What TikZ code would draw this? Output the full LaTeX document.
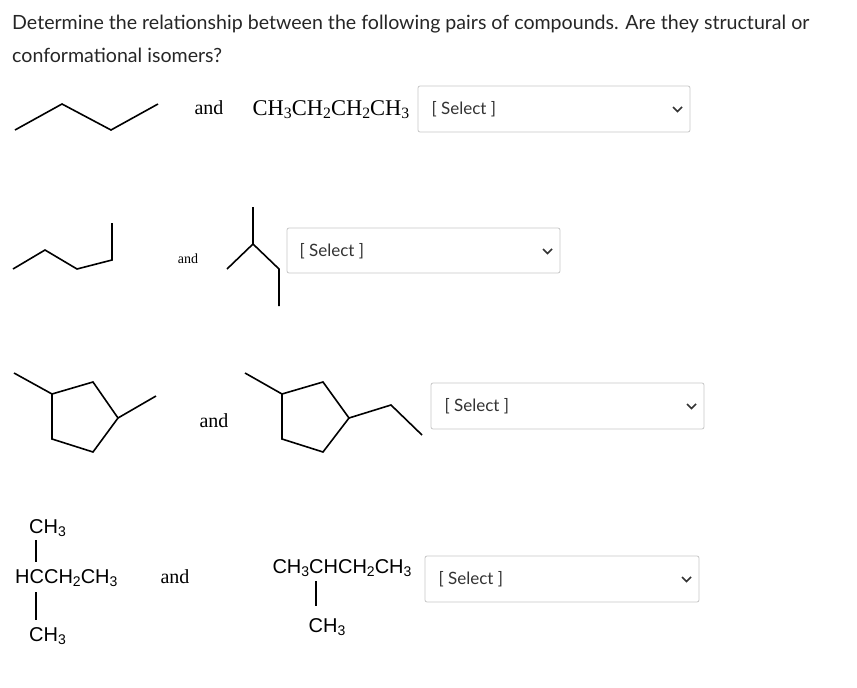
\documentclass[tikz,border=0pt]{standalone}
\usepackage{fontspec}
\setmainfont{Lato}
\newfontfamily\serif{Liberation Serif}
\newfontfamily\arial{Liberation Sans}
\newcommand{\sbs}[1]{\raisebox{-0.3ex}{\scalebox{0.7}{#1}}}
\begin{document}
\begin{tikzpicture}[x=1pt,y=-1pt,
  bond/.style={line width=1.6pt,line join=miter},
  sel/.style={draw=black!22,rounded corners=2pt,line width=0.8pt},
  seltext/.style={anchor=west,font=\fontsize{17}{19}\selectfont,text=black!80},
  chev/.style={line width=1.5pt,black!80},
  andt/.style={font=\serif\fontsize{20}{22}\selectfont},
  formula/.style={font=\arial\fontsize{20}{22}\selectfont,inner sep=0pt}]
\useasboundingbox[fill=white] (0,0) rectangle (857,688);
\node[anchor=west,font=\fontsize{19.6}{22}\selectfont,text=black!85,inner sep=0pt] (q1) at (12,24) {Determine the relationship between the following pairs of compounds. Are they structural or};
\node[anchor=west,font=\fontsize{19.6}{22}\selectfont,text=black!85,inner sep=0pt] (q2) at (12,55) {conformational isomers?};
% row 1
\draw[bond] (15,130)--(62,104)--(111,130)--(158,104);
\node[andt] (and1) at (209,108) {and};
\node[font=\serif\fontsize{22.5}{24}\selectfont,inner sep=0pt] (f1) at (331,110) {CH\sbs{3}CH\sbs{2}CH\sbs{2}CH\sbs{3}};
\draw[sel] (418,86) rectangle (690,132);
\node[seltext] (s1) at (428,109) {[ Select ]};
\draw[chev] (673,107)--(677.5,111.5)--(682,107);
% row 2
\draw[bond] (13,269)--(45,250)--(77,269)--(112,260)--(112,223);
\node[font=\serif\fontsize{14}{16}\selectfont] (and2) at (188,259) {and};
\draw[bond] (227,269)--(253,244)--(253,207);
\draw[bond] (253,244)--(279,269)--(279,306);
\draw[sel] (287,228) rectangle (560,273);
\node[seltext] (s2) at (296,251) {[ Select ]};
\draw[chev] (543,249)--(547.5,253.5)--(552,249);
% row 3
\draw[bond] (52,394)--(93,382)--(118,418)--(93,452)--(52,439)--cycle;
\draw[bond] (14,373)--(52,394);
\draw[bond] (118,418)--(156,396);
\node[andt] (and3) at (214,421) {and};
\draw[bond] (282,394)--(323,382)--(349,418)--(323,452)--(282,439)--cycle;
\draw[bond] (245,373)--(282,394);
\draw[bond] (349,418)--(391,405)--(422,435);
\draw[sel] (431,383) rectangle (704,429);
\node[seltext] (s3) at (441,406) {[ Select ]};
\draw[chev] (687,404)--(691.5,408.5)--(696,404);
% row 4
\node[formula,anchor=west] (a1) at (29,528) {CH\sbs{3}};
\node[formula,anchor=west] (a2) at (15,578) {HCCH\sbs{2}CH\sbs{3}};
\node[formula,anchor=west] (a3) at (29,636) {CH\sbs{3}};
\draw[line width=1.2pt] (36,540)--(36,562);
\draw[line width=1.2pt] (36,592)--(36,620);
\node[andt] (and4) at (175,577) {and};
\node[formula] (b1) at (342,568) {CH\sbs{3}CHCH\sbs{2}CH\sbs{3}};
\node[formula] (b2) at (327,627) {CH\sbs{3}};
\draw[line width=1.2pt] (316,581)--(316,606);
\draw[sel] (425,556) rectangle (699,602);
\node[seltext] (s4) at (435,579) {[ Select ]};
\draw[chev] (682,577)--(686.5,581.5)--(691,577);
\end{tikzpicture}
\end{document}
